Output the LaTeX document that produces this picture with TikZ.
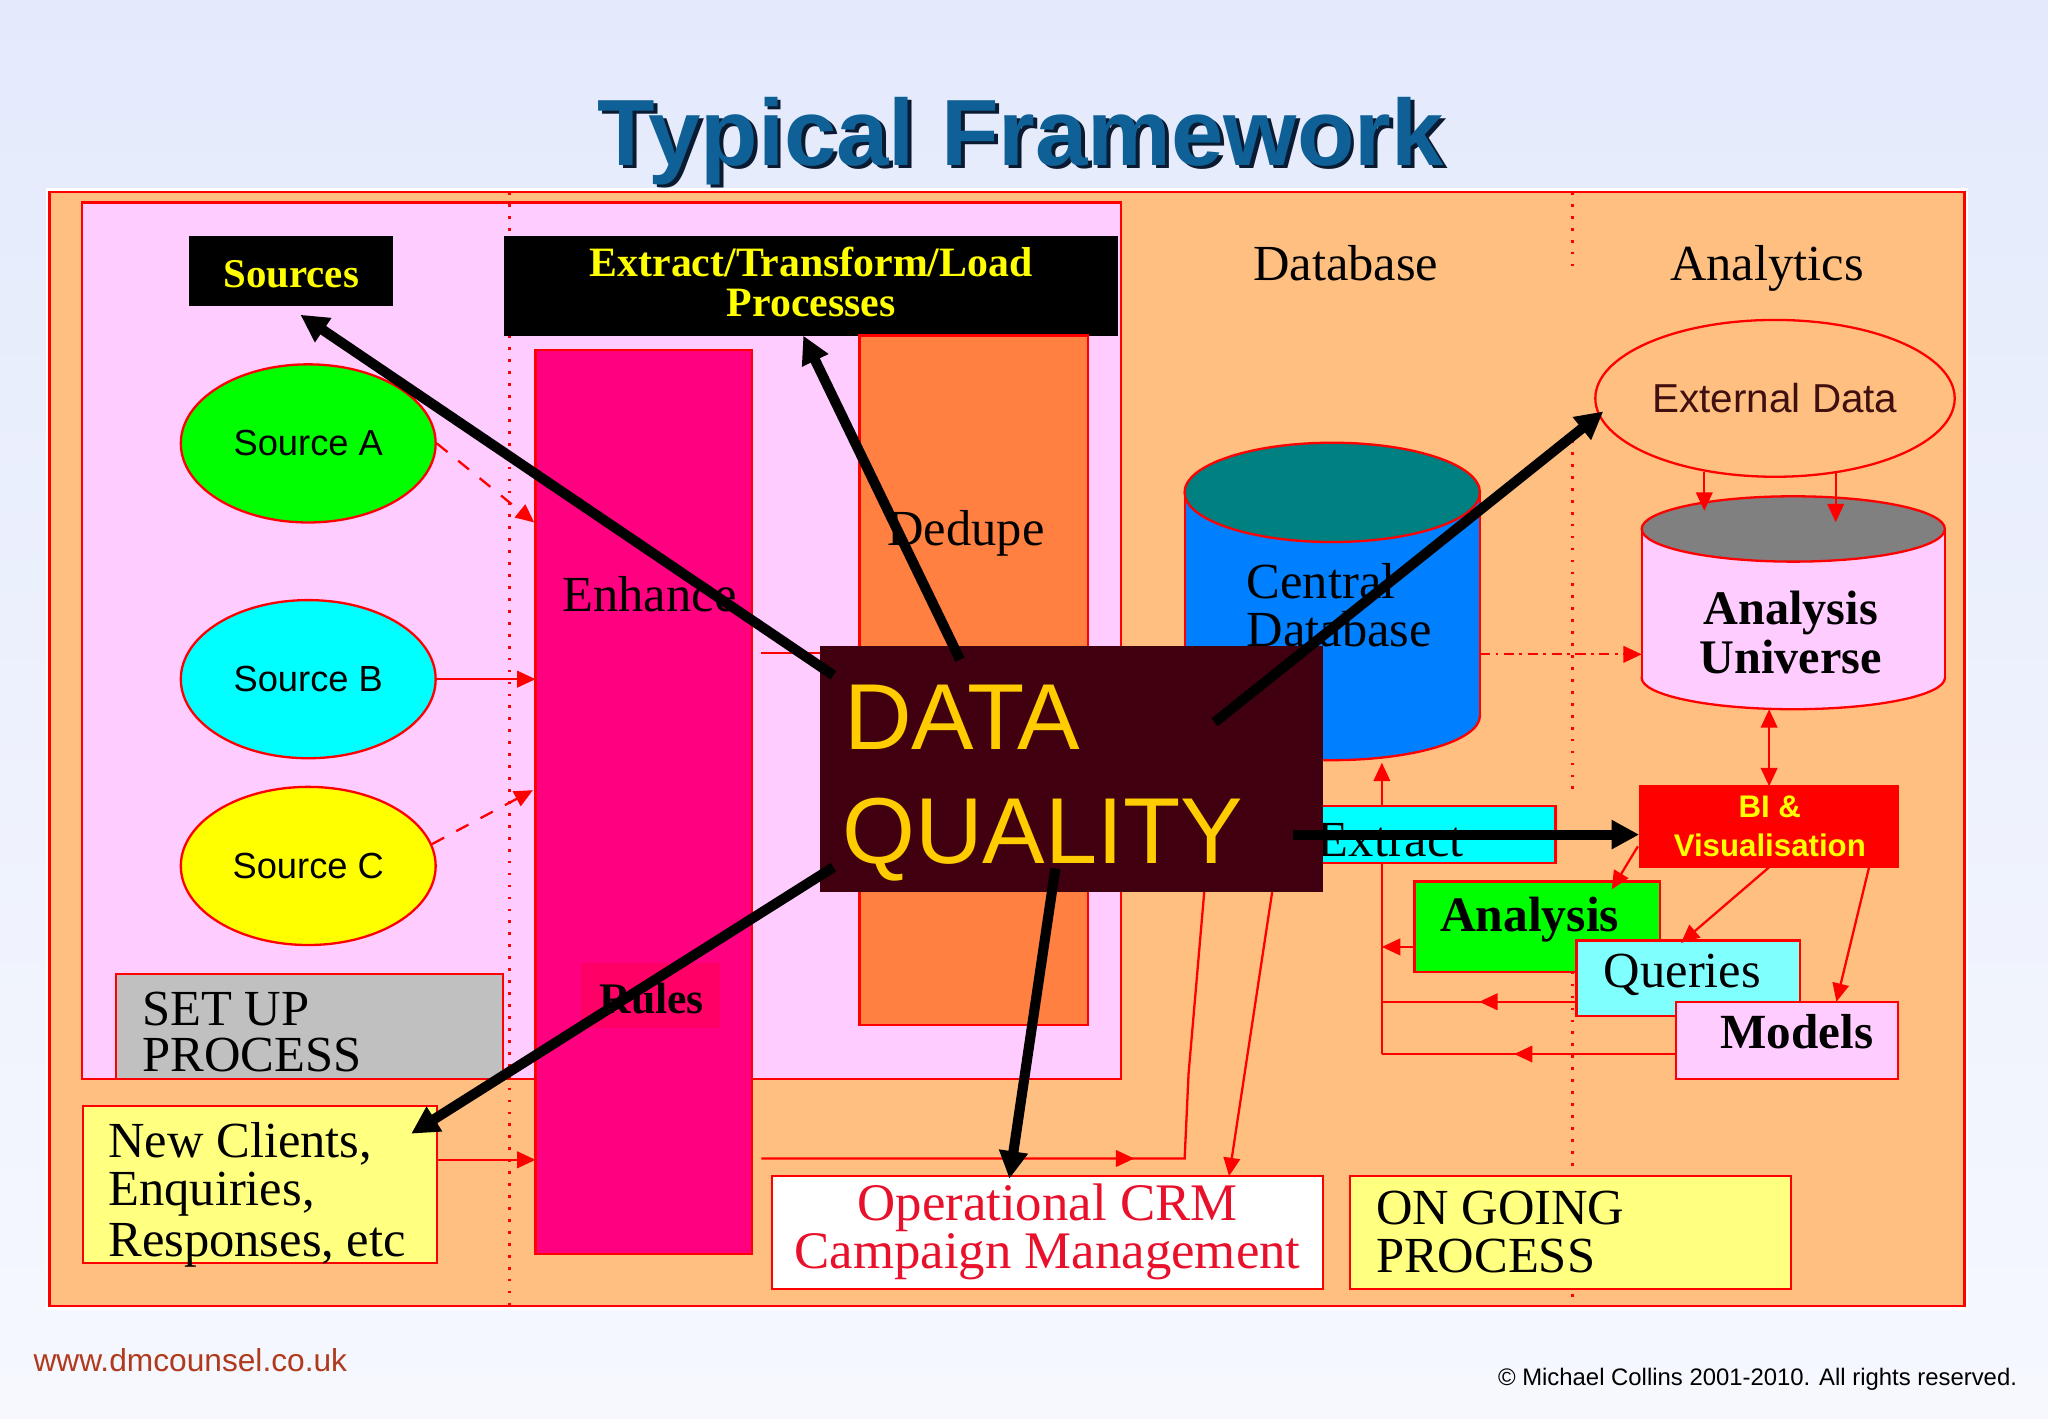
\documentclass[tikz,border=0pt]{standalone}
\usepackage{fontspec}
\setmainfont{Liberation Serif}
\setsansfont{Liberation Sans}
\usetikzlibrary{arrows.meta,shapes.geometric,decorations.markings,calc}
\definecolor{peach}{HTML}{FFBF80}
\definecolor{pinkbg}{HTML}{FFCCFF}
\definecolor{enhpink}{HTML}{FF0080}
\definecolor{rulespink}{HTML}{FF0066}
\definecolor{dedupe}{HTML}{FF8040}
\definecolor{dqbg}{HTML}{400010}
\definecolor{dqtext}{HTML}{FFCC00}
\definecolor{dbblue}{HTML}{0080FF}
\definecolor{dbteal}{HTML}{008080}
\definecolor{augray}{HTML}{808080}
\definecolor{lyellow}{HTML}{FFFF80}
\definecolor{lcyan}{HTML}{80FFFF}
\definecolor{purecyan}{HTML}{00FFFF}
\definecolor{puregreen}{HTML}{00FF00}
\definecolor{pureyellow}{HTML}{FFFF00}
\definecolor{purered}{HTML}{FF0000}
\definecolor{titleblue}{HTML}{0E6096}
\definecolor{titleshadow}{HTML}{0A1A30}
\definecolor{crmred}{HTML}{E8102A}
\definecolor{urlred}{HTML}{B03A1E}
\definecolor{extdark}{HTML}{401010}
\definecolor{bgtop}{HTML}{E4EAFC}
\definecolor{bgmid}{HTML}{6A8FF5}
\definecolor{bgbot}{HTML}{F6F8FE}
\definecolor{setgray}{HTML}{C0C0C0}
\newcommand\myfs[1]{\fontsize{#1}{#1}\selectfont}
\newcommand\mybox[7]{%
  \pgfmathsetmacro\mybxcx{(#2+#4)/2}%
  \pgfmathsetmacro\mybxcy{(#3+#5)/2}%
  \pgfmathsetmacro\mybxw{(#4-#2)*0.01}%
  \pgfmathsetmacro\mybxh{(#5-#3)*0.01}%
  \node[#6, minimum width=\mybxw cm, minimum height=\mybxh cm] (#1) at (\mybxcx,\mybxcy) {#7};}
\tikzset{
  redl/.style={draw=purered, line width=0.5pt},
  rarr/.style={redl, -{Triangle[length=4pt,width=3.6pt]}},
  rdarr/.style={redl, {Triangle[length=4pt,width=3.6pt]}-{Triangle[length=4pt,width=3.6pt]}},
  midarr/.style={postaction={decorate}, decoration={markings, mark=at position #1 with {\arrow{Triangle[length=4pt,width=3.6pt]}}}},
  barr/.style={draw=black, line width=2.2pt, -{Triangle[length=6pt,width=6pt]}},
  box/.style={rectangle, inner sep=0pt, outer sep=0pt, draw=purered, line width=0.5pt},
  plain/.style={rectangle, inner sep=0pt, outer sep=0pt},
  ser/.style={inner sep=0pt, outer sep=0pt, font=\myfs{11}, text=black},
  serb/.style={inner sep=0pt, outer sep=0pt, font=\bfseries\myfs{11}, text=black},
  srcell/.style={ellipse, draw=purered, line width=0.5pt, minimum width=1.95cm, minimum height=1.21cm, inner sep=0pt, font=\sffamily\myfs{7.9}, text=black},
  dotl/.style={draw=purered, line width=0.6pt, dotted},
  dashdot/.style={dash pattern=on 2.2pt off 1.2pt on 0.6pt off 1.2pt},
}
\begin{document}
\begin{tikzpicture}[x=0.01cm, y=-0.01cm]
\useasboundingbox (0,0) rectangle (1568,1086);
\shade[top color=bgtop, middle color=bgmid, bottom color=bgbot] (0,0) rectangle (1568,1086);

% title
\node[inner sep=0pt, font=\sffamily\bfseries\myfs{20.5}, text=titleshadow, anchor=base] (titleS) at (784.4,129.4) {Typical Framework};
\node[inner sep=0pt, font=\sffamily\bfseries\myfs{20.5}, text=titleblue, anchor=base] (title) at (781.4,126.4) {Typical Framework};

% frame and stage
\fill[white] (35,144) rectangle (1507,1003);
\mybox{frame}{38}{147}{1504}{1000}{box, fill=peach}{}
\mybox{stage}{63}{155}{858}{826}{box, fill=pinkbg}{}
\draw[dotl] (390,147) -- (390,1000);
\draw[dotl] (1204,147) -- (1204,208);
\draw[dotl] (1204,337) -- (1204,606);
\draw[dotl] (1204,744) -- (1204,1000);

% header boxes
\mybox{src}{145}{181}{301}{234}{plain, fill=black}{}
\node[serb, text=pureyellow, font=\bfseries\myfs{8.9}, anchor=base] (srcT) at (223,220) {Sources};
\mybox{etl}{386}{181}{856}{257}{plain, fill=black}{}
\node[serb, text=pureyellow, font=\bfseries\myfs{9.1}, anchor=base] (etlT1) at (621,211.8) {Extract/Transform/Load};
\node[serb, text=pureyellow, font=\bfseries\myfs{9.1}, anchor=base] (etlT2) at (621,242.5) {Processes};
\node[ser, anchor=base west] (dbH) at (959.4,214.7) {Database};
\node[ser, anchor=base west] (anH) at (1278.7,214.7) {Analytics};

% columns
\mybox{enh}{410}{268}{576}{960}{box, fill=enhpink}{}
\mybox{ded}{658}{257}{833}{785}{box, fill=dedupe}{}
\mybox{rules}{445}{737}{551}{787}{plain, fill=rulespink}{}
\node[ser, anchor=base west] (enhT) at (430.7,468.4) {Enhance};
\node[ser, anchor=base west] (dedT) at (679.5,417.6) {Dedupe};
\node[serb, font=\bfseries\myfs{9.5}, anchor=base west] (rulesT) at (459,776) {Rules};

% sources
\node[srcell, fill=puregreen] (srcA) at (236,339.5) {Source A};
\node[srcell, fill=purecyan] (srcB) at (236,520) {Source B};
\node[srcell, fill=pureyellow] (srcC) at (236,663) {Source C};

\mybox{setup}{89}{746}{385}{826}{box, fill=setgray}{}
\node[ser, anchor=base west] (setupT1) at (109,785) {SET UP};
\node[ser, anchor=base west] (setupT2) at (109,820) {PROCESS};

\mybox{nc}{63.6}{847}{334.8}{967}{box, fill=lyellow}{}
\node[ser, anchor=base west] (ncT1) at (83,886) {New Clients,};
\node[ser, anchor=base west] (ncT2) at (83,923) {Enquiries,};
\node[ser, anchor=base west] (ncT3) at (83,962) {Responses, etc};

\mybox{crm}{591}{900.5}{1012.7}{987}{box, fill=white}{}
\node[ser, text=crmred, font=\myfs{11.5}, anchor=base] (crmT1) at (802,934.5) {Operational CRM};
\node[ser, text=crmred, font=\myfs{11.5}, anchor=base] (crmT2) at (802,971) {Campaign Management};

\mybox{ongo}{1033.5}{900.5}{1371}{987}{box, fill=lyellow}{}
\node[ser, anchor=base west] (ongoT1) at (1053.6,937.8) {ON GOING};
\node[ser, anchor=base west] (ongoT2) at (1053.6,974.3) {PROCESS};

% central database cylinder
\node[plain, minimum width=2.26cm, minimum height=2.43cm] (cdb) at (1020,460.5) {};
\filldraw[fill=dbblue, draw=purered, line width=0.5pt] (1020,548) ellipse [x radius=1.13cm, y radius=0.34cm];
\fill[dbblue] (907,377) rectangle (1133,548);
\draw[purered, line width=0.5pt] (907,377) -- (907,548) (1133,377) -- (1133,548);
\filldraw[fill=dbteal, draw=purered, line width=0.5pt] (1020,377) ellipse [x radius=1.13cm, y radius=0.38cm];
\node[ser, anchor=base west] (cdbT1) at (954.6,458) {Central};
\node[ser, anchor=base west] (cdbT2) at (954.6,495) {Database};

% external data
\node[ellipse, draw=purered, line width=0.5pt, minimum width=2.75cm, minimum height=1.2cm, inner sep=0pt, font=\sffamily\myfs{8.8}, text=extdark] (ext) at (1359,305) {External Data};

% analysis universe cylinder
\node[plain, minimum width=2.32cm, minimum height=1.63cm] (au) at (1373,461.5) {};
\filldraw[fill=pinkbg, draw=purered, line width=0.5pt] (1373,519) ellipse [x radius=1.16cm, y radius=0.24cm];
\fill[pinkbg] (1257,405) rectangle (1489,519);
\draw[purered, line width=0.5pt] (1257,405) -- (1257,519) (1489,405) -- (1489,519);
\filldraw[fill=augray, draw=purered, line width=0.5pt] (1373,405) ellipse [x radius=1.16cm, y radius=0.25cm];
\node[serb, font=\bfseries\myfs{10.5}, anchor=base] (auT1) at (1371,478) {Analysis};
\node[serb, font=\bfseries\myfs{10.5}, anchor=base] (auT2) at (1371,516) {Universe};

% red connectors (under boxes)
\coordinate (h888) at (0,888);
\coordinate (h501) at (0,501);
\coordinate (h725) at (0,725);
\coordinate (h767) at (0,767);
\coordinate (h807) at (0,807);
\coordinate (enhA) at (409,400);
\coordinate (enhC) at (408,605);
\draw[rarr, dashed] (srcA.east) -- (enhA);
\draw[rarr] (srcB.east) -- (enh.west |- srcB.east);
\draw[rarr, dashed] (srcC.10) -- (enhC);
\draw[rarr] (nc.east |- h888) -- (enh.west |- h888);
\coordinate (l1a) at (583,887);
\coordinate (l1b) at (922,683);
\draw[redl, midarr=0.54] (l1a) -- (907,887) -- (910,822) -- (l1b);
\coordinate (l2a) at (974,683);
\coordinate (l2b) at (941,900.5);
\draw[rarr] (l2a) -- (l2b);
\coordinate (e500) at (583,500);
\draw[redl] (e500) -- (ded.west |- e500);
\draw[rarr, dashdot] (cdb.east |- h501) -- (au.west |- h501);
\draw[rarr] (ext.226) -- ++(0,30);
\draw[rarr] (ext.309.5) -- ++(0,37.5);

\coordinate (fbT) at (1058,584);
\coordinate (fbB) at (1058,807);
\draw[rarr] (fbB) -- (fbT);

% right side boxes
\mybox{extr}{960}{617}{1191}{661}{box, fill=purecyan}{}
\node[ser, anchor=base west] (extrT) at (1009,655.5) {Extract};
\mybox{bi}{1256}{602}{1453}{664}{box, fill=purered}{}
\node[inner sep=0pt, font=\sffamily\bfseries\myfs{6.8}, text=pureyellow, anchor=base] (biT1) at (1355,626) {BI \&};
\node[inner sep=0pt, font=\sffamily\bfseries\myfs{6.8}, text=pureyellow, anchor=base] (biT2) at (1355,655.5) {Visualisation};
\mybox{ana}{1083}{675}{1271}{744}{box, fill=puregreen}{}
\node[serb, font=\bfseries\myfs{10.8}, anchor=base west] (anaT) at (1102.5,713.4) {Analysis};
\mybox{qry}{1207}{720}{1378}{778}{box, fill=lcyan}{}
\node[ser, anchor=base west] (qryT) at (1228,755.7) {Queries};
\mybox{mod}{1283}{767}{1453}{826}{box, fill=pinkbg}{}
\node[serb, font=\bfseries\myfs{10.7}, anchor=base west] (modT) at (1317.3,803) {Models};

\draw[rdarr] (bi.north) -- (bi.north |- au.south);
\draw[rarr] ($(bi.west)+(-2,15)$) -- ($(ana.north west)+(151,6)$);
\draw[rarr] (bi.south) -- ($(qry.north west)+(80,2)$);
\draw[rarr] ($(bi.south east)+(-22,0)$) -- ($(mod.north west)+(123,0)$);
\draw[rarr] (ana.west |- h725) -- (fbB |- h725);
\draw[redl, midarr=0.5] (qry.west |- h767) -- (fbB |- h767);
\draw[redl, midarr=0.55] (mod.west |- h807) -- (fbB);

% data quality
\mybox{dq}{627.5}{494.6}{1012.8}{682.8}{plain, fill=dqbg}{}
\node[inner sep=0pt, font=\sffamily\myfs{20.4}, text=dqtext, anchor=base west] (dqT1) at (645.6,573.8) {DATA};
\node[inner sep=0pt, font=\sffamily\myfs{20.4}, text=dqtext, anchor=base west] (dqT2) at (644.2,661) {QUALITY};

% black arrows
\coordinate (q1) at (638,517);
\coordinate (q2) at (735,505);
\coordinate (q3) at (930,553);
\coordinate (q4) at (990,639);
\coordinate (q5) at (808,665);
\coordinate (q6) at (638,664);
\draw[barr] (q1) -- ($(src.south)+(7,7)$);
\draw[barr] (q2) -- ($(etl.south)+(-6,0)$);
\draw[barr] (q3) -- ($(ext.west)+(7,10)$);
\draw[barr] (q4) -- ($(bi.west)+(-1,6)$);
\draw[barr] (q5) -- ($(crm.north)+(-29,2)$);
\draw[barr] (q6) -- ($(nc.north east)+(-20,21)$);

% footer
\node[inner sep=0pt, font=\sffamily\myfs{6.9}, text=urlred, anchor=base west] (url) at (25,1050) {www.dmcounsel.co.uk};
\node[inner sep=0pt, font=\sffamily\myfs{5.2}, text=black, anchor=base east] (copy) at (1545,1060.6) {© Michael Collins 2001-2010. All rights reserved.};
\end{tikzpicture}
\end{document}
